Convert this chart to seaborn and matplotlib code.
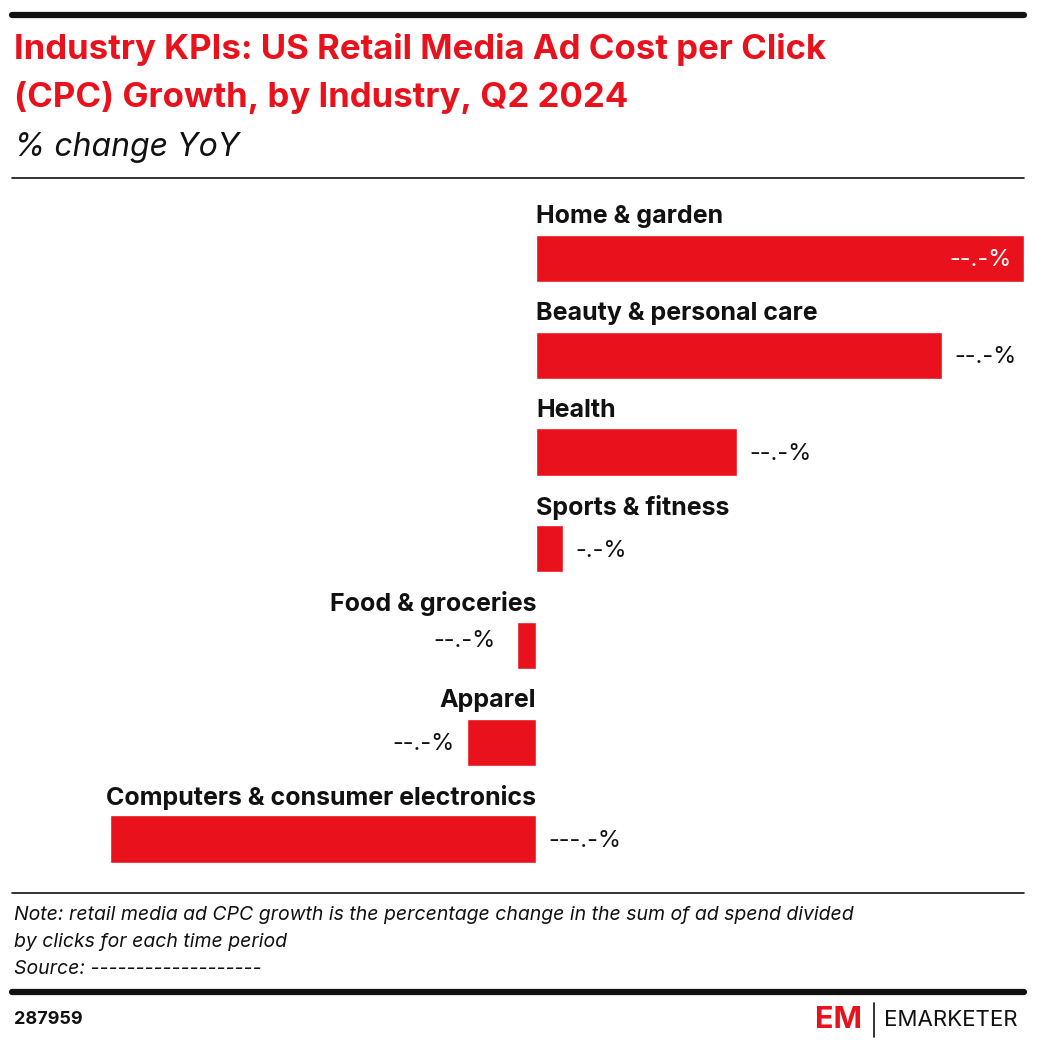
import matplotlib
matplotlib.use("Agg")
import matplotlib.pyplot as plt
import seaborn as sns
import pandas as pd

# --- Data (labels are masked in the source) ---
industries = ['Home & garden', 'Beauty & personal care', 'Health', 'Sports & fitness',
              'Food & groceries', 'Apparel', 'Computers & consumer electronics']
growth = [48.8, 40.6, 20.1, 2.7, -1.9, -6.9, -42.6]
value_labels = ['--.-%', '--.-%', '--.-%', '-.-%', '--.-%', '--.-%', '---.-%']

RED = '#e8111c'
sns.set_theme(style='white')
plt.rcParams['font.family'] = ['Inter', 'DejaVu Sans']

W, H = 1047, 1049
fig = plt.figure(figsize=(W / 100, H / 100), dpi=100)

df = pd.DataFrame({'industry': industries, 'growth': growth})

top_px, bot_px = 190, 880
ax = fig.add_axes([110 / W, 1 - bot_px / H, 914 / W, (bot_px - top_px) / H])
sns.barplot(data=df, x='growth', y='industry', orient='h', color=RED,
            width=0.486, saturation=1, ax=ax)
ax.set_xlim(-42.6, 48.8)
ax.set_ylim(6 + 41 / 96.75, -68.5 / 96.75)
ax.axis('off')

for i, (name, val, lab) in enumerate(zip(industries, growth, value_labels)):
    ha = 'left' if val >= 0 else 'right'
    ax.text(0, i - 0.43, name, ha=ha, va='center', fontsize=18, fontweight='bold', color='#111')
    if i == 0:
        ax.text(val - 1.2, i + 0.02, lab, ha='right', va='center', fontsize=17, color='white')
    elif val >= 0:
        ax.text(val + 1.2, i + 0.02, lab, ha='left', va='center', fontsize=17, color='#111')
    elif i == 4:
        ax.text(-4.0, i - 0.05, lab, ha='right', va='center', fontsize=17, color='#111')
    elif i == 5:
        ax.text(val - 1.2, i + 0.02, lab, ha='right', va='center', fontsize=17, color='#111')
    else:
        ax.text(1.2, i + 0.02, lab, ha='left', va='center', fontsize=17, color='#111')


def hline(y, lw):
    fig.add_artist(plt.Line2D([12 / W, 1024 / W], [1 - y / H, 1 - y / H], color='#111', lw=lw))


hline(15, 4.5)
hline(178, 1.2)
hline(893, 1.2)
hline(992, 4.5)

fig.text(14 / W, 1 - 50 / H, 'Industry KPIs: US Retail Media Ad Cost per Click',
         fontsize=25, fontweight='bold', color=RED, va='center')
fig.text(14 / W, 1 - 98 / H, '(CPC) Growth, by Industry, Q2 2024',
         fontsize=25, fontweight='bold', color=RED, va='center')
fig.text(14 / W, 1 - 147 / H, '% change YoY', fontsize=23, style='italic', color='#111', va='center')

fig.text(14 / W, 1 - 915 / H, 'Note: retail media ad CPC growth is the percentage change in the sum of ad spend divided',
         fontsize=14, style='italic', color='#111', va='center')
fig.text(14 / W, 1 - 942 / H, 'by clicks for each time period', fontsize=14, style='italic', color='#111', va='center')
fig.text(14 / W, 1 - 969 / H, 'Source: -------------------', fontsize=14, style='italic', color='#111', va='center')

fig.text(14 / W, 1 - 1020 / H, '287959', fontsize=13, fontweight='bold', color='#111', va='center')
fig.text(815 / W, 1 - 1020 / H, 'EM', fontsize=22, fontweight='bold', color=RED, va='center')
fig.add_artist(plt.Line2D([874 / W, 874 / W], [1 - 1003 / H, 1 - 1037 / H], color='#111', lw=1.2))
fig.text(884 / W, 1 - 1020 / H, 'EMARKETER', fontsize=16, color='#111', va='center')

fig.savefig('out.png', dpi=100)
